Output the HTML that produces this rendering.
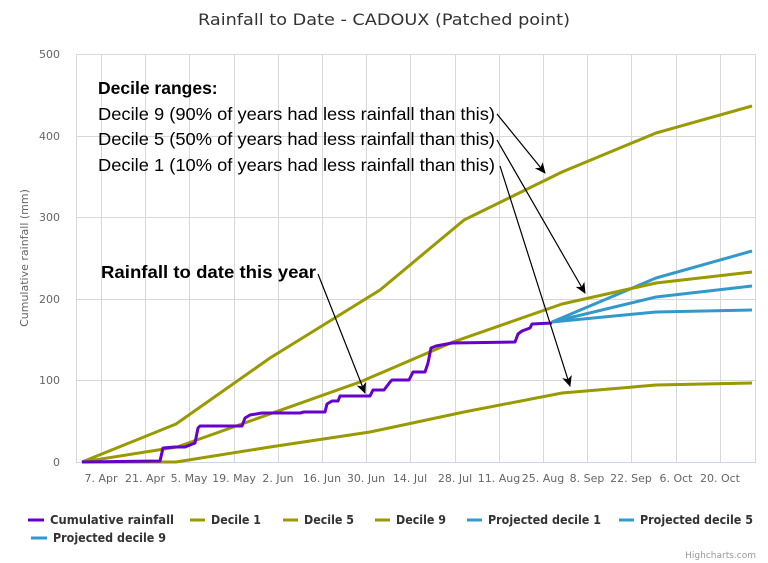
<!DOCTYPE html>
<html><head><meta charset="utf-8"><style>
html,body{margin:0;padding:0;background:#fff;}
svg{display:block;}
</style></head><body>
<svg width="768" height="563" xmlns="http://www.w3.org/2000/svg" font-family="Liberation Sans, sans-serif">
<rect width="768" height="563" fill="#fff"/>
<text x="384" y="25" text-anchor="middle" font-family="DejaVu Sans, sans-serif" font-size="16" fill="#333" textLength="372" lengthAdjust="spacingAndGlyphs">Rainfall to Date - CADOUX (Patched point)</text>
<g stroke="#d8d8d8" stroke-width="1">
<line x1="76" y1="54.5" x2="756" y2="54.5"/>
<line x1="76" y1="136.5" x2="756" y2="136.5"/>
<line x1="76" y1="217.5" x2="756" y2="217.5"/>
<line x1="76" y1="299.5" x2="756" y2="299.5"/>
<line x1="76" y1="380.5" x2="756" y2="380.5"/>
<line x1="76" y1="462.5" x2="756" y2="462.5" stroke="#ccd6eb"/>
<line x1="76.5" y1="54" x2="76.5" y2="462"/>
<line x1="101.5" y1="54" x2="101.5" y2="462"/>
<line x1="145.5" y1="54" x2="145.5" y2="462"/>
<line x1="189.5" y1="54" x2="189.5" y2="462"/>
<line x1="234.5" y1="54" x2="234.5" y2="462"/>
<line x1="278.5" y1="54" x2="278.5" y2="462"/>
<line x1="322.5" y1="54" x2="322.5" y2="462"/>
<line x1="366.5" y1="54" x2="366.5" y2="462"/>
<line x1="410.5" y1="54" x2="410.5" y2="462"/>
<line x1="455.5" y1="54" x2="455.5" y2="462"/>
<line x1="499.5" y1="54" x2="499.5" y2="462"/>
<line x1="543.5" y1="54" x2="543.5" y2="462"/>
<line x1="587.5" y1="54" x2="587.5" y2="462"/>
<line x1="631.5" y1="54" x2="631.5" y2="462"/>
<line x1="676.5" y1="54" x2="676.5" y2="462"/>
<line x1="720.5" y1="54" x2="720.5" y2="462"/>
<line x1="755.5" y1="54" x2="755.5" y2="462"/>
</g>
<g font-family="DejaVu Sans, sans-serif" font-size="11" fill="#666" text-anchor="end">
<text x="60" y="58">500</text><text x="60" y="140">400</text><text x="60" y="221">300</text>
<text x="60" y="303">200</text><text x="60" y="384">100</text><text x="60" y="466">0</text>
</g>
<text transform="translate(28,258) rotate(-90)" text-anchor="middle" font-family="DejaVu Sans, sans-serif" font-size="11" fill="#666">Cumulative rainfall (mm)</text>
<g font-family="DejaVu Sans, sans-serif" font-size="11" fill="#666" text-anchor="middle">
<text x="101" y="482">7. Apr</text><text x="145" y="482">21. Apr</text><text x="189" y="482">5. May</text>
<text x="234" y="482">19. May</text><text x="278" y="482">2. Jun</text><text x="322" y="482">16. Jun</text>
<text x="366" y="482">30. Jun</text><text x="410" y="482">14. Jul</text><text x="455" y="482">28. Jul</text>
<text x="499" y="482">11. Aug</text><text x="543" y="482">25. Aug</text><text x="587" y="482">8. Sep</text>
<text x="631" y="482">22. Sep</text><text x="676" y="482">6. Oct</text><text x="720" y="482">20. Oct</text>
</g>
<g fill="none" stroke-width="3" stroke-linejoin="round">
<polyline stroke="#3399cc" points="552,322 656,278 752,251"/>
<polyline stroke="#3399cc" points="552,322 656,297 752,286"/>
<polyline stroke="#3399cc" points="552,322 656,312 752,310"/>
<polyline stroke="#999900" points="82,462 176,424 270,358 380,290 464,220 562,172 656,133 752,106"/>
<polyline stroke="#999900" points="82,462 177,447 360,382 453,342 562,304 656,283 752,272"/>
<polyline stroke="#999900" points="82,462 176,462 270,447 370,432 464,412 562,393 656,385 752,383"/>
<polyline stroke="#6600cc" points="82,462 160,461 163,448 175,447 185,447 195,443 198,428 200,426 242,426 245,418 250,415 262,413 300,413 304,412 325,412 327,404 332,401 338,401 340,396 370,396 373,390 384,390 390,382 392,380 409,380 413,372 425,372 428,363 431,348 436,346 452,343 515,342 518,334 522,331 530,328 532,324 552,323"/>
</g>
<g font-size="17.5" fill="#000">
<text x="98" y="94" font-weight="bold">Decile ranges:</text>
<text x="98" y="120" textLength="397" lengthAdjust="spacingAndGlyphs">Decile 9 (90% of years had less rainfall than this)</text>
<text x="98" y="145" textLength="397" lengthAdjust="spacingAndGlyphs">Decile 5 (50% of years had less rainfall than this)</text>
<text x="98" y="171" textLength="397" lengthAdjust="spacingAndGlyphs">Decile 1 (10% of years had less rainfall than this)</text>
<text x="101" y="278" font-weight="bold" textLength="215" lengthAdjust="spacingAndGlyphs">Rainfall to date this year</text>
</g>
<defs><marker id="ah" markerWidth="12" markerHeight="12" refX="10" refY="5" orient="auto" markerUnits="userSpaceOnUse"><path d="M0,0 L11,5 L0,10 L3,5 z" fill="#000"/></marker></defs>
<g stroke="#000" stroke-width="1.2" fill="none" marker-end="url(#ah)">
<line x1="497" y1="114" x2="545" y2="173"/>
<line x1="497" y1="140" x2="585" y2="293"/>
<line x1="500" y1="166" x2="570" y2="386"/>
<line x1="318" y1="274" x2="365" y2="393"/>
</g>
<g font-family="DejaVu Sans, sans-serif" font-size="12" font-weight="bold" fill="#333">
<line x1="28" y1="520" x2="44" y2="520" stroke="#6600cc" stroke-width="3"/><text x="50" y="524" textLength="124" lengthAdjust="spacingAndGlyphs">Cumulative rainfall</text>
<line x1="190" y1="520" x2="205" y2="520" stroke="#999900" stroke-width="3"/><text x="211" y="524" textLength="50" lengthAdjust="spacingAndGlyphs">Decile 1</text>
<line x1="283" y1="520" x2="298" y2="520" stroke="#999900" stroke-width="3"/><text x="304" y="524" textLength="50" lengthAdjust="spacingAndGlyphs">Decile 5</text>
<line x1="375" y1="520" x2="390" y2="520" stroke="#999900" stroke-width="3"/><text x="396" y="524" textLength="50" lengthAdjust="spacingAndGlyphs">Decile 9</text>
<line x1="467" y1="520" x2="482" y2="520" stroke="#3399cc" stroke-width="3"/><text x="488" y="524" textLength="113" lengthAdjust="spacingAndGlyphs">Projected decile 1</text>
<line x1="619" y1="520" x2="634" y2="520" stroke="#3399cc" stroke-width="3"/><text x="640" y="524" textLength="113" lengthAdjust="spacingAndGlyphs">Projected decile 5</text>
<line x1="31" y1="538" x2="47" y2="538" stroke="#3399cc" stroke-width="3"/><text x="53" y="542" textLength="113" lengthAdjust="spacingAndGlyphs">Projected decile 9</text>
</g>
<text x="756" y="558" text-anchor="end" font-family="DejaVu Sans, sans-serif" font-size="9" fill="#999">Highcharts.com</text>
</svg>
</body></html>
